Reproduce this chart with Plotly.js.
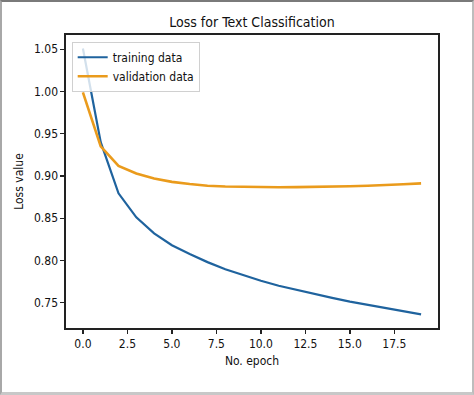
<!DOCTYPE html>
<html>
<head>
<meta charset="utf-8">
<script src="https://cdn.plot.ly/plotly-3.0.1.min.js"></script>
<style>
  html, body { margin: 0; padding: 0; background: #fff; }
  #wrap { position: relative; width: 474px; height: 395px; overflow: hidden; }
  #chart { width: 474px; height: 395px; }
  #frame { position: absolute; left: 0; top: 0; width: 474px; height: 395px; box-sizing: border-box;
           border-top: 2px solid #7a7a7a; border-left: 2px solid #a8a8a8;
           border-right: 2px solid #bdbdbd; border-bottom: 3px solid #c8c8c8; pointer-events: none; }
</style>
</head>
<body>
<div id="wrap">
  <div id="chart"></div>
  <div id="frame"></div>
</div>
<script>
// Data
const epochs = [0,1,2,3,4,5,6,7,8,9,10,11,12,13,14,15,16,17,18,19];
const trainingLoss = [1.051, 0.940, 0.8795, 0.851, 0.832, 0.818, 0.8077, 0.798, 0.7896, 0.7825,
                      0.776, 0.770, 0.765, 0.760, 0.7556, 0.7512, 0.7473, 0.7437, 0.740, 0.7362];
const validationLoss = [0.999, 0.935, 0.912, 0.903, 0.897, 0.893, 0.8905, 0.8885, 0.8875, 0.887,
                        0.8866, 0.8866, 0.8868, 0.887, 0.8873, 0.8878, 0.8885, 0.889, 0.8902, 0.8912];
const xTickVals = [0, 2.5, 5, 7.5, 10, 12.5, 15, 17.5];
const xTickText = ["0.0", "2.5", "5.0", "7.5", "10.0", "12.5", "15.0", "17.5"];
const yTickVals = [0.75, 0.80, 0.85, 0.90, 0.95, 1.00, 1.05];
const yTickText = ["0.75", "0.80", "0.85", "0.90", "0.95", "1.00", "1.05"];
const seriesNames = ["training data", "validation data"];

const FONT = "DejaVu Sans Condensed, DejaVu Sans, sans-serif";

const traces = [
  { x: epochs, y: trainingLoss, name: seriesNames[0], type: "scatter", mode: "lines",
    line: { color: "#1f639e", width: 2.2 } },
  { x: epochs, y: validationLoss, name: seriesNames[1], type: "scatter", mode: "lines",
    line: { color: "#ea9b1c", width: 2.6 } }
];

const axisCommon = {
  showline: true, mirror: true, linecolor: "#222", linewidth: 1.6,
  ticks: "outside", ticklen: 4, tickwidth: 1.4, tickcolor: "#222",
  showgrid: false, zeroline: false, automargin: false,
  tickfont: { family: FONT, size: 12, color: "#111" }
};

const layout = {
  width: 474, height: 395,
  margin: { l: 66, r: 36, t: 35, b: 67 },
  paper_bgcolor: "#fff", plot_bgcolor: "#fff",
  font: { family: FONT, color: "#111" },
  title: { text: "Loss for Text Classification", font: { family: FONT, size: 14, color: "#111" },
           x: 0.5, xref: "paper", y: 1 - 22.5 / 395, yref: "container", yanchor: "middle" },
  xaxis: Object.assign({}, axisCommon, {
    range: [-0.95, 19.95], tickmode: "array", tickvals: xTickVals, ticktext: xTickText,
    title: { text: "No. epoch", font: { family: FONT, size: 12, color: "#111" }, standoff: 6 }
  }),
  yaxis: Object.assign({}, axisCommon, {
    range: [0.7200, 1.0669], tickmode: "array", tickvals: yTickVals, ticktext: yTickText,
    title: { text: "Loss value", font: { family: FONT, size: 12, color: "#111" }, standoff: 8 }
  }),
  showlegend: true,
  legend: { x: 0.0153, y: 0.977, xanchor: "left", yanchor: "top",
            bgcolor: "rgba(255,255,255,0.8)", bordercolor: "#d0d0d0", borderwidth: 1,
            font: { family: FONT, size: 12, color: "#111" }, tracegroupgap: 0 }
};

Plotly.newPlot("chart", traces, layout, { staticPlot: true, displayModeBar: false });
</script>
</body>
</html>
